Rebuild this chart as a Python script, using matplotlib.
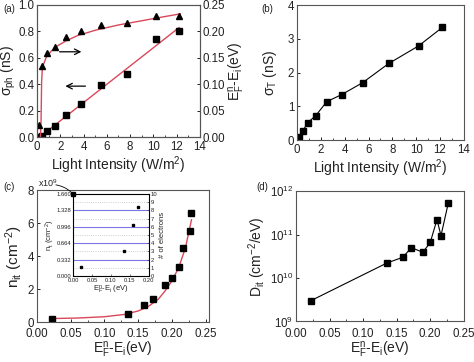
import numpy as np
import matplotlib
matplotlib.use('Agg')
import matplotlib.pyplot as plt
from matplotlib.ticker import AutoMinorLocator

plt.rcParams['font.family'] = ['Liberation Sans', 'DejaVu Sans']
plt.rcParams['mathtext.fontset'] = 'custom'
plt.rcParams['mathtext.rm'] = 'Liberation Sans'
plt.rcParams['mathtext.it'] = 'Liberation Sans'

# light intensity (W/m^2)
intensity = [0.2, 0.47, 0.9, 1.56, 2.5, 3.76, 5.5, 7.7, 10.2, 12.2]
sigma_ph = [0.0, 0.01, 0.045, 0.08, 0.165, 0.25, 0.39, 0.475, 0.74, 0.80]
ef_ei = [0.022, 0.1335, 0.159, 0.171, 0.19, 0.20, 0.211, 0.216, 0.229, 0.229]
sigma_t = [0.1, 0.26, 0.52, 0.72, 1.14, 1.35, 1.70, 2.27, 2.79, 3.34]

# fit curve of E_F-E_i vs intensity
ef_fit_x = [0.3, 0.35, 0.38, 0.4, 0.45, 0.55, 0.8, 1.2, 1.8, 2.5, 3.5, 5.0, 7.0, 9.0, 11.0, 12.3]
ef_fit_y = [0.0, 0.03, 0.075, 0.105, 0.125, 0.137, 0.151, 0.162, 0.173, 0.182, 0.192, 0.202, 0.212, 0.220, 0.228, 0.233]

# panel c
efn = [0.022, 0.135, 0.159, 0.172, 0.189, 0.20, 0.21, 0.216, 0.227, 0.229]
n_it = [0.18, 0.5, 1.03, 1.39, 2.26, 2.66, 3.37, 4.48, 5.53, 6.63]
nit_fit_x = [0.022, 0.06, 0.10, 0.13, 0.15, 0.165, 0.18, 0.19, 0.20, 0.21, 0.22, 0.229]
nit_fit_y = [0.22, 0.25, 0.33, 0.47, 0.68, 0.95, 1.4, 1.9, 2.5, 3.3, 4.5, 6.2]

# inset
inset_x = [0.022, 0.135, 0.159, 0.172]
electrons = [1.06, 3.05, 6.2, 8.45]
per_electron = 0.166

# panel d
efd = [0.022, 0.135, 0.159, 0.172, 0.189, 0.20, 0.21, 0.216, 0.227]
d_it = [3.0e9, 2.2e10, 3.0e10, 5.0e10, 3.9e10, 6.6e10, 2.2e11, 9.5e10, 5.4e11]

red = '#d9485a'
tick_fs = 8.3
lab_fs = 10
ink = '#222222'

fig = plt.figure(figsize=(4.74, 3.62), dpi=100)


def style(ax, minor=True, xpad=3):
    ax.tick_params(direction='in', labelsize=tick_fs, length=2.5, width=0.7, pad=2,
                   colors=ink)
    ax.tick_params(axis='x', pad=xpad)
    ax.tick_params(which='minor', direction='in', length=1.3, width=0.5)
    for s in ax.spines.values():
        s.set_linewidth(0.8)
        s.set_color('#555555')
    if minor:
        ax.xaxis.set_minor_locator(AutoMinorLocator(2))


# (a)
ax = fig.add_axes([0.078, 0.6215, 0.344, 0.365])
coef = np.polyfit(intensity, sigma_ph, 1)
xl = np.array([intensity[0], intensity[-1]])
ax.plot(xl, np.polyval(coef, xl), color=red, lw=1)
ax.plot(intensity, sigma_ph, 's', color='black', ms=4)
ax.set_xlim(0, 14)
ax.set_ylim(0, 1.0)
ax.set_xticks(range(0, 15, 2))
ax.set_yticks(np.arange(0, 1.01, 0.2))
ax.set_xlabel('Light Intensity (W/m$^2$)', fontsize=lab_fs, labelpad=1, color=ink)
ax.set_ylabel(r'$\sigma_{ph}$ (nS)', fontsize=lab_fs, labelpad=0, color=ink)
style(ax)
ax.tick_params(right=False)
ax.annotate('', xy=(4.05, 0.645), xytext=(1.7, 0.645),
            arrowprops=dict(arrowstyle='->', color='black', lw=0.9))
ax.annotate('', xy=(2.2, 0.385), xytext=(4.4, 0.385),
            arrowprops=dict(arrowstyle='->', color='black', lw=0.9))
ax2 = ax.twinx()
ax2.plot(ef_fit_x, ef_fit_y, color=red, lw=1)
ax2.plot(intensity, ef_ei, '^', color='black', ms=4.5)
ax2.set_ylim(0, 0.25)
ax2.set_yticks(np.arange(0, 0.251, 0.05))
ax2.set_yticklabels(['%.2f' % v for v in np.arange(0, 0.251, 0.05)])
ax2.set_ylabel(r'E$_F^n$-E$_i$(eV)', fontsize=lab_fs, labelpad=1, color=ink)
style(ax2, minor=False)
fig.text(0.008, 0.988, '(a)', fontsize=7, va='top', color=ink)

# (b)
bx = fig.add_axes([0.6266, 0.613, 0.352, 0.373])
bx.plot(intensity, sigma_t, 's-', color='black', ms=4, lw=0.8)
bx.set_xlim(0, 14)
bx.set_ylim(0, 4)
bx.set_xticks(range(0, 15, 2))
bx.set_yticks(range(0, 5))
bx.set_xlabel('Light Intensity (W/m$^2$)', fontsize=lab_fs, labelpad=1, color=ink)
bx.set_ylabel(r'$\sigma_T$ (nS)', fontsize=lab_fs, labelpad=6, color=ink)
style(bx)
fig.text(0.552, 0.988, '(b)', fontsize=7, va='top', color=ink)

# (c)
cx = fig.add_axes([0.078, 0.11, 0.363, 0.365])
cx.plot(nit_fit_x, nit_fit_y, color=red, lw=1)
cx.plot(efn, n_it, 's', color='black', ms=4.5)
cx.set_xlim(0, 0.255)
cx.set_ylim(0, 8)
cx.set_xticks(np.arange(0, 0.251, 0.05))
cx.set_xticklabels(['%.2f' % v for v in np.arange(0, 0.251, 0.05)])
cx.set_yticks(range(0, 9, 2))
cx.set_xlabel(r'E$_F^n$-E$_i$(eV)', fontsize=lab_fs, labelpad=0, color=ink)
cx.set_ylabel(r'n$_{it}$ (cm$^{-2}$)', fontsize=lab_fs + 1, labelpad=2, color=ink)
style(cx, xpad=4.5)
fig.text(0.008, 0.497, '(c)', fontsize=7, va='top', color=ink)
fig.text(0.080, 0.478, r'x10$^9$', fontsize=6.5, va='bottom', color=ink)

ix = fig.add_axes([0.154, 0.2376, 0.160, 0.2265])
for k in range(1, 10):
    if k % 2 == 0:
        ix.axhline(k * per_electron, color='#7878e0', lw=0.8)
    else:
        ix.axhline(k * per_electron, color='#c0c0c0', lw=0.6, ls=':')
ix.plot(inset_x, [e * per_electron for e in electrons], 's', color='black', ms=1.6)
ix.set_xlim(0, 0.2)
ix.set_ylim(0, 10 * per_electron)
ix.set_xticks(np.arange(0, 0.201, 0.05))
ix.set_xticklabels(['%.2f' % v for v in np.arange(0, 0.201, 0.05)])
ix.set_yticks([k * 2 * per_electron for k in range(6)])
ix.set_yticklabels(['%.3f' % (k * 2 * per_electron) for k in range(6)])
ix.tick_params(direction='in', labelsize=4.2, length=1.2, pad=1, width=0.4, colors=ink)
ix.tick_params(axis='x', pad=1.5)
ix.set_xlabel(r'E$_F^n$-E$_i$ (eV)', fontsize=5.5, labelpad=1, color=ink)
ix.set_ylabel(r'n$_t$ (cm$^{-2}$)', fontsize=5.5, labelpad=0, color=ink)
for s in ix.spines.values():
    s.set_linewidth(0.5)
    s.set_color('#555555')
ix2 = ix.twinx()
ix2.set_ylim(0, 10)
ix2.set_yticks(range(11))
ix2.tick_params(direction='in', labelsize=4.2, length=1.2, pad=1.5, width=0.4, colors=ink)
ix2.set_ylabel('# of electrons', fontsize=5.5, labelpad=1, color=ink)
ix.plot([0], [10 * per_electron], 's', color='black', ms=2.5, clip_on=False, zorder=5)
ix.annotate('', xy=(0, 10 * per_electron), xycoords='data',
            xytext=(0.112, 0.49), textcoords='figure fraction',
            arrowprops=dict(arrowstyle='-', color='black', lw=0.6,
                            connectionstyle='arc3,rad=-0.2'))

# (d)
dx = fig.add_axes([0.6245, 0.112, 0.354, 0.360])
dx.semilogy(efd, d_it, 's-', color='black', ms=4, lw=0.8)
dx.set_xlim(0, 0.25)
dx.set_ylim(1e9, 1e12)
dx.set_xticks(np.arange(0, 0.251, 0.05))
dx.set_xticklabels(['%.2f' % v for v in np.arange(0, 0.251, 0.05)])
dx.set_xlabel(r'E$_F^n$-E$_i$(eV)', fontsize=lab_fs, labelpad=0, color=ink)
dx.set_ylabel(r'D$_{it}$ (cm$^{-2}$/eV)', fontsize=lab_fs, labelpad=1, color=ink)
style(dx, xpad=4.5)
dx.yaxis.set_minor_locator(matplotlib.ticker.NullLocator())
fig.text(0.540, 0.497, '(d)', fontsize=7, va='top', color=ink)

fig.savefig('out.png', dpi=100)
